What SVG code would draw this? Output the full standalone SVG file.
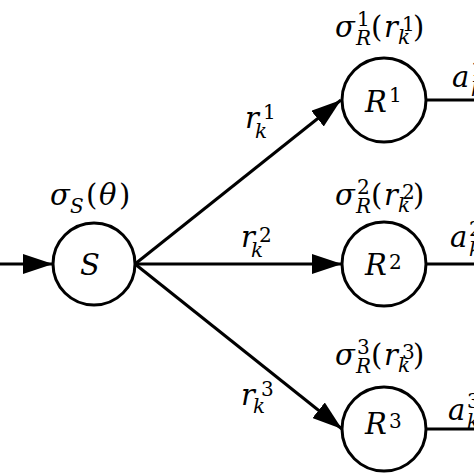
<svg xmlns="http://www.w3.org/2000/svg" width="474" height="474" viewBox="0 0 474 474" font-family="'DejaVu Serif', serif">
<style>
.n{fill:#fff;stroke:#000;stroke-width:3}
.c{stroke:#000;stroke-width:3;fill:none}
text{font-family:'DejaVu Serif',serif;fill:#000;font-size:29px;font-style:italic}
.u{font-size:29px;font-style:normal}
.s{font-size:20px;font-style:italic}
.d{font-size:20px;font-style:normal}
</style>
<defs>
<marker id="ah" markerUnits="userSpaceOnUse" markerWidth="30" markerHeight="20" refX="30" refY="10" orient="auto">
<path d="M0,0 L30,10 L0,20 z" fill="#000"/>
</marker>
</defs>
<rect width="474" height="474" fill="#fff"/>
<g id="connectors">
<line class="c" x1="0" y1="264" x2="53" y2="264" marker-end="url(#ah)"/>
<line class="c" x1="135" y1="264" x2="341" y2="100" marker-end="url(#ah)"/>
<line class="c" x1="135" y1="264" x2="342" y2="264" marker-end="url(#ah)"/>
<line class="c" x1="135" y1="264" x2="342" y2="429" marker-end="url(#ah)"/>
<line class="c" x1="426" y1="100" x2="474" y2="100"/>
<line class="c" x1="426" y1="264" x2="474" y2="264"/>
<line class="c" x1="426" y1="429" x2="474" y2="429"/>
</g>
<g id="edge-labels">
<text x="245" y="128">r<tspan class="d" x="263" y="119">1</tspan><tspan class="s" x="255" y="138">k</tspan></text>
<text x="241" y="247">r<tspan class="d" x="259" y="242">2</tspan><tspan class="s" x="251" y="257">k</tspan></text>
<text x="241" y="405">r<tspan class="d" x="261" y="396">3</tspan><tspan class="s" x="253" y="413">k</tspan></text>
<text x="452" y="87">a<tspan class="d" x="471" y="76">1</tspan><tspan class="s" x="471" y="96">k</tspan></text>
<text x="450" y="247">a<tspan class="d" x="469" y="236">2</tspan><tspan class="s" x="469" y="256">k</tspan></text>
<text x="448" y="420">a<tspan class="d" x="467" y="408">3</tspan><tspan class="s" x="467" y="428">k</tspan></text>
</g>
<g id="node-S">
<circle class="n" cx="94" cy="264" r="41"/>
<text x="80" y="275">S</text>
<text x="50" y="205">σ<tspan class="s" x="70" y="213">S</tspan><tspan class="u" x="86" y="205">(</tspan><tspan x="99" y="205">θ</tspan><tspan class="u" x="119" y="205">)</tspan></text>
</g>
<g id="node-R1">
<circle class="n" cx="384" cy="100" r="42"/>
<text x="365" y="112">R<tspan class="d" x="389" y="102">1</tspan></text>
<text x="335" y="37">σ<tspan class="d" x="357" y="26">1</tspan><tspan class="s" x="356" y="45">R</tspan><tspan class="u" x="371" y="37">(</tspan><tspan x="384" y="37">r</tspan><tspan class="d" x="402" y="31">1</tspan><tspan class="s" x="398" y="44">k</tspan><tspan class="u" x="413" y="37">)</tspan></text>
</g>
<g id="node-R2">
<circle class="n" cx="384" cy="264" r="42"/>
<text x="365" y="275">R<tspan class="d" x="389" y="269">2</tspan></text>
<text x="335" y="205">σ<tspan class="d" x="357" y="194">2</tspan><tspan class="s" x="356" y="213">R</tspan><tspan class="u" x="371" y="205">(</tspan><tspan x="384" y="205">r</tspan><tspan class="d" x="402" y="199">2</tspan><tspan class="s" x="398" y="212">k</tspan><tspan class="u" x="413" y="205">)</tspan></text>
</g>
<g id="node-R3">
<circle class="n" cx="384" cy="429" r="42"/>
<text x="365" y="434">R<tspan class="d" x="389" y="428">3</tspan></text>
<text x="335" y="365">σ<tspan class="d" x="357" y="354">3</tspan><tspan class="s" x="356" y="373">R</tspan><tspan class="u" x="371" y="365">(</tspan><tspan x="384" y="365">r</tspan><tspan class="d" x="402" y="359">3</tspan><tspan class="s" x="398" y="372">k</tspan><tspan class="u" x="413" y="365">)</tspan></text>
</g>
</svg>
